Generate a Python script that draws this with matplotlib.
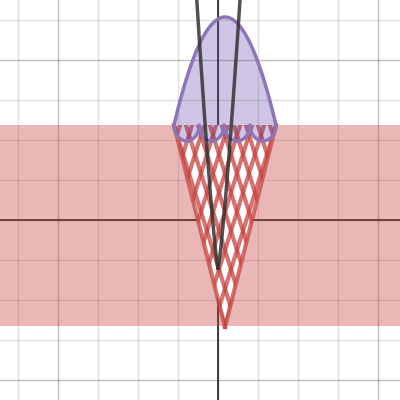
import numpy as np
import matplotlib
matplotlib.use("Agg")
import matplotlib.pyplot as plt
from matplotlib.patches import Polygon

# data (graph units)
xlim = [-5.45, 4.55]
ylim = [-4.5, 5.5]
band_y = [-2.65, 2.375]
cone_top_x = [-1.1, 1.45]
cone_top_y = 2.375
cone_apex = [0.175, -2.675]
scoop_peak = [0.175, 5.075]
scallop_cusps = [-1.1, -0.47, 0.15, 0.8, 1.45]
scallop_depth = 0.4
gray_vertex = [0.0, -1.2]
gray_half_width_top = [-0.53, 0.55]   # x at y = 5.5
lattice_offsets = np.arange(-16, 17)
lattice_spacing = 0.3
lattice_slope = 3.2

red = "#c74440"
purple = "#6042a6"

fig = plt.figure(figsize=(4, 4), dpi=100)
ax = fig.add_axes([0, 0, 1, 1])
ax.set_xlim(xlim); ax.set_ylim(ylim)
ax.axis("off")

for v in range(-6, 6):
    major = v % 4 == 0
    ax.axvline(v, color="#000", alpha=0.25 if major else 0.12, lw=1, zorder=0)
for v in range(-5, 6):
    major = v % 4 == 0
    ax.axhline(v, color="#000", alpha=0.25 if major else 0.12, lw=1, zorder=0)
ax.axvline(0, color="#222", lw=1.2, zorder=1)
ax.axhline(0, color="#222", lw=1.2, zorder=1)

ax.axhspan(band_y[0], band_y[1], color=red, alpha=0.38, lw=0, zorder=2)

cone = [(cone_top_x[0], cone_top_y), (cone_top_x[1], cone_top_y), tuple(cone_apex)]
ax.add_patch(Polygon(cone, closed=True, facecolor="white", edgecolor="none", zorder=3))
clip = Polygon(cone, closed=True, transform=ax.transData)
ys = np.array([-3.0, 2.5])
for k in lattice_offsets:
    for s in (1, -1):
        xs = cone_apex[0] + k * lattice_spacing + s * (ys - cone_apex[1]) / lattice_slope
        ln, = ax.plot(xs, ys, color=red, lw=3, alpha=0.75, zorder=4, solid_capstyle="butt")
        ln.set_clip_path(clip)
for xt in cone_top_x:
    ax.plot([xt, cone_apex[0]], [cone_top_y, cone_apex[1]], color=red, lw=3, alpha=0.75, zorder=4)

# scoop
px0, px1 = cone_top_x
a = (scoop_peak[1] - cone_top_y) / ((px1 - scoop_peak[0]) * (scoop_peak[0] - px0))
xp = np.linspace(px0, px1, 200)
yp = cone_top_y + a * (xp - px0) * (px1 - xp)
xb, yb = [], []
for c0, c1 in zip(scallop_cusps[:-1], scallop_cusps[1:]):
    t = np.linspace(0, np.pi, 40)
    xm, r = (c0 + c1) / 2, (c1 - c0) / 2
    xb += list(xm - r * np.cos(t))
    yb += list(cone_top_y - scallop_depth * np.sin(t))
outline_x = np.concatenate([xp, xb[::-1]])
outline_y = np.concatenate([yp, yb[::-1]])
ax.fill(outline_x, outline_y, color=purple, alpha=0.3, lw=0, zorder=5)
ax.plot(xp, yp, color="#8e75b8", lw=2.5, zorder=6)
ax.plot(xb, yb, color="#8e75b8", lw=2.5, zorder=6)

# gray curve
yg = np.linspace(gray_vertex[1], ylim[1] + 0.2, 100)
for xt in gray_half_width_top:
    xg = gray_vertex[0] + xt * ((yg - gray_vertex[1]) / (ylim[1] - gray_vertex[1])) ** 0.8
    ax.plot(xg, yg, color="#333", alpha=0.85, lw=2.5, zorder=7)

fig.savefig("out.png", dpi=100)
